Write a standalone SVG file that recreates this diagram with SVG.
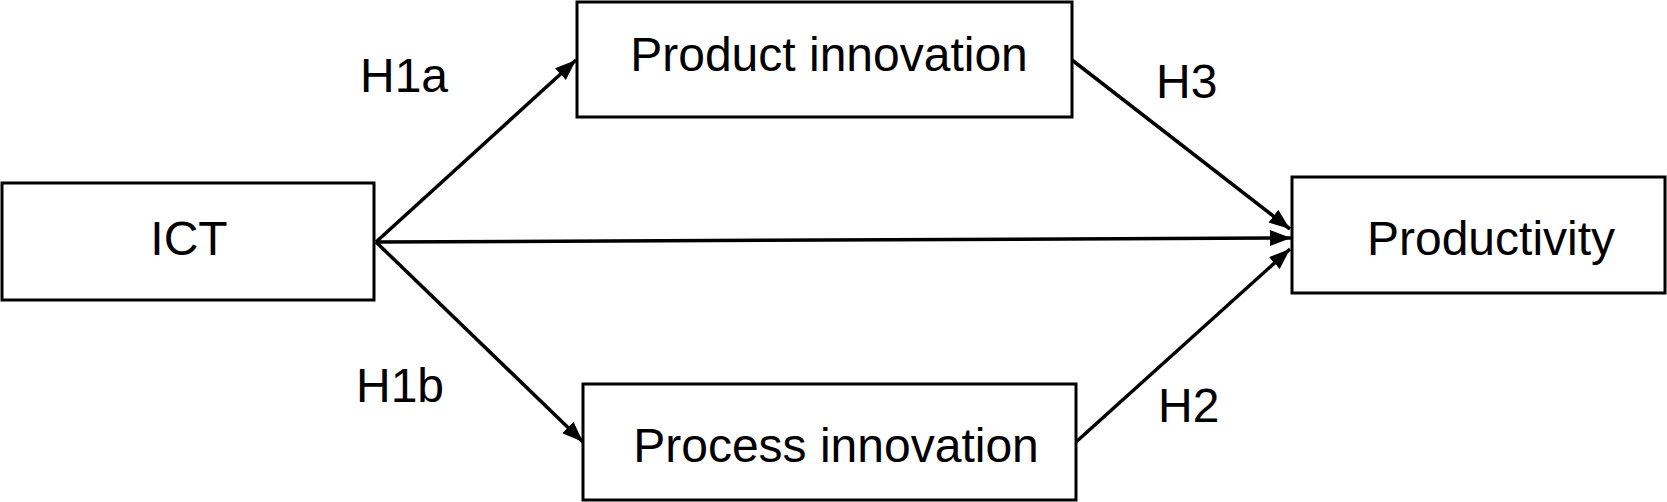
<svg xmlns="http://www.w3.org/2000/svg" width="1667" height="502" viewBox="0 0 1667 502">
<style>
.box{fill:#fff;stroke:#000;stroke-width:3}
.lbl{font-family:"Liberation Sans",Arial,Helvetica,sans-serif;font-size:48px;fill:#000}
.edge{stroke:#000;stroke-width:3.5;fill:none;marker-end:url(#ah)}
</style>
<defs>
<marker id="ah" markerUnits="userSpaceOnUse" markerWidth="24" markerHeight="18" refX="21" refY="8" orient="auto">
<path d="M0,0 L21,8 L0,16 Z" fill="#000"/>
</marker>
</defs>
<rect width="1667" height="502" fill="#fff"/>
<g id="connectors">
<line class="edge" x1="376" y1="242" x2="576" y2="60"/>
<line class="edge" x1="376" y1="242" x2="583" y2="442"/>
<line class="edge" x1="376" y1="242" x2="1291" y2="238"/>
<line class="edge" x1="1072" y1="60" x2="1290" y2="229"/>
<line class="edge" x1="1076" y1="442" x2="1290" y2="249"/>
</g>
<g id="labels">
<text class="lbl" x="360" y="92">H1a</text>
<text class="lbl" x="356" y="402">H1b</text>
<text class="lbl" x="1156" y="98">H3</text>
<text class="lbl" x="1158" y="422">H2</text>
</g>
<g id="node-ict">
<rect class="box" x="2" y="183" width="372" height="117"/>
<text class="lbl" x="189" y="255" text-anchor="middle">ICT</text>
</g>
<g id="node-product">
<rect class="box" x="577" y="2" width="495" height="115"/>
<text class="lbl" x="829" y="71" text-anchor="middle">Product innovation</text>
</g>
<g id="node-process">
<rect class="box" x="583" y="384" width="493" height="116"/>
<text class="lbl" x="836" y="462" text-anchor="middle">Process innovation</text>
</g>
<g id="node-productivity">
<rect class="box" x="1292" y="177" width="373" height="116"/>
<text class="lbl" x="1491" y="255" text-anchor="middle">Productivity</text>
</g>
</svg>
